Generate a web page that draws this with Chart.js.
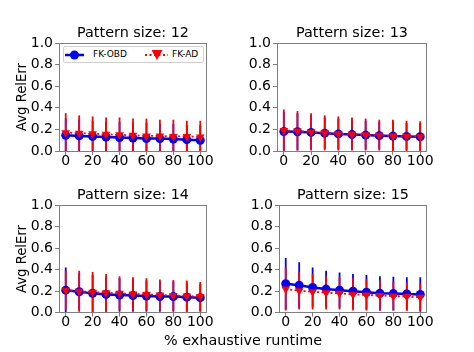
<!DOCTYPE html>
<html>
<head>
<meta charset="utf-8">
<script src="https://cdn.jsdelivr.net/npm/chart.js@4.4.0/dist/chart.umd.min.js"></script>
<style>
html, body { margin: 0; padding: 0; background: #fff; }
body { width: 474px; height: 352px; position: relative; overflow: hidden; font-family: "DejaVu Sans", sans-serif; }
canvas { position: absolute; left: 0; top: 0; }
#legend { position: absolute; left: 63px; top: 46px; width: 139px; height: 15px; border: 1px solid #d0d0d0; border-radius: 2px; background: #fff; font-size: 9px; color: #000; }
#legend span { position: absolute; top: 2px; }
#legend svg { position: absolute; top: 1px; }
#xlabel { position: absolute; left: 143px; width: 200px; top: 332px; text-align: center; font-size: 14.4px; color: #000; }
</style>
</head>
<body>
<canvas id="p12" width="474" height="352"></canvas>
<canvas id="p13" width="474" height="352"></canvas>
<canvas id="p14" width="474" height="352"></canvas>
<canvas id="p15" width="474" height="352"></canvas>
<div id="legend">
  <svg style="left:1px" width="20" height="14"><line x1="0" y1="7" x2="19" y2="7" stroke="#0000ff" stroke-width="2.5"/><circle cx="9.5" cy="7" r="4.5" fill="#0000ff"/></svg>
  <span style="left:29px">FK-OBD</span>
  <svg style="left:81px" width="24" height="14"><line x1="0" y1="7" x2="23" y2="7" stroke="#ff0000" stroke-width="1.8" stroke-dasharray="2,2.5"/><polygon points="6.5,2 17.5,2 12,12" fill="#ff0000"/></svg>
  <span style="left:108px">FK-AD</span>
</div>
<div id="xlabel">% exhaustive runtime</div>
<script>
"use strict";
const runtime = [0, 10, 20, 30, 40, 50, 60, 70, 80, 90, 100];
const xTicks = [0, 20, 40, 60, 80, 100];

// pattern size 12
const obd12    = [0.145, 0.14, 0.135, 0.13, 0.125, 0.12, 0.115, 0.115, 0.11, 0.105, 0.10];
const obd12Top = [0.30, 0.29, 0.28, 0.27, 0.27, 0.26, 0.26, 0.25, 0.25, 0.24, 0.24];
const ad12     = [0.17, 0.165, 0.16, 0.155, 0.15, 0.145, 0.14, 0.14, 0.135, 0.135, 0.13];
const ad12Top  = [0.35, 0.33, 0.32, 0.31, 0.31, 0.30, 0.30, 0.29, 0.29, 0.28, 0.28];

// pattern size 13
const obd13    = [0.18, 0.178, 0.172, 0.165, 0.158, 0.152, 0.147, 0.142, 0.138, 0.135, 0.132];
const obd13Top = [0.36, 0.35, 0.33, 0.31, 0.30, 0.29, 0.28, 0.27, 0.27, 0.26, 0.26];
const ad13     = [0.19, 0.185, 0.175, 0.168, 0.16, 0.155, 0.15, 0.145, 0.14, 0.137, 0.133];
const ad13Top  = [0.385, 0.37, 0.35, 0.33, 0.32, 0.31, 0.30, 0.29, 0.29, 0.28, 0.275];

// pattern size 14
const obd14    = [0.21, 0.195, 0.18, 0.17, 0.165, 0.16, 0.155, 0.15, 0.15, 0.145, 0.14];
const obd14Top = [0.42, 0.37, 0.35, 0.33, 0.32, 0.31, 0.30, 0.29, 0.29, 0.28, 0.27];
const ad14     = [0.21, 0.20, 0.19, 0.185, 0.18, 0.175, 0.17, 0.165, 0.16, 0.155, 0.15];
const ad14Top  = [0.39, 0.39, 0.38, 0.36, 0.34, 0.33, 0.32, 0.31, 0.305, 0.30, 0.285];

// pattern size 15
const obd15    = [0.27, 0.255, 0.235, 0.22, 0.21, 0.20, 0.19, 0.18, 0.178, 0.175, 0.17];
const obd15Top = [0.51, 0.47, 0.42, 0.39, 0.375, 0.36, 0.35, 0.34, 0.335, 0.33, 0.33];
const ad15     = [0.22, 0.205, 0.195, 0.185, 0.18, 0.17, 0.165, 0.16, 0.155, 0.15, 0.145];
const ad15Top  = [0.42, 0.38, 0.36, 0.34, 0.33, 0.32, 0.31, 0.30, 0.29, 0.28, 0.27];

const FONT = "'DejaVu Sans', sans-serif";
const SPINE = "#7f7f7f";

// box around plot area (all four spines)
const frame = {
    id: "frame",
    afterDatasetsDraw(chart) {
        const a = chart.chartArea, ctx = chart.ctx;
        ctx.save();
        ctx.strokeStyle = SPINE;
        ctx.lineWidth = 1;
        ctx.strokeRect(Math.round(a.left) + 0.5, Math.round(a.top) + 0.5,
            Math.round(a.right - a.left) - 1, Math.round(a.bottom - a.top));
        ctx.restore();
    }
};

function errBars(mean, top) {
    return runtime.map((x, i) => ({ x: x, y: [2 * mean[i] - top[i], top[i]] }));
}
function points(vals) {
    return runtime.map((x, i) => ({ x: x, y: vals[i] }));
}

function makePlot(id, box, title, obd, obdTop, ad, adTop, yTitle) {
    const titleH = 14.4 * 1.2 + 1;
    const xH = 20;
    const yW = yTitle ? box.l - 14.2 : 40;
    return new Chart(document.getElementById(id).getContext("2d"), {
        type: "line",
        data: {
            datasets: [
                {
                    type: "line", label: "FK-AD", data: points(ad), order: 0,
                    borderColor: "#ff0000", backgroundColor: "#ff0000",
                    borderWidth: 1.8, borderDash: [2, 2.5], tension: 0,
                    pointStyle: "triangle", pointRotation: 180, pointRadius: 5,
                    pointBorderWidth: 0, pointBackgroundColor: "#ff0000"
                },
                {
                    type: "line", label: "FK-OBD", data: points(obd), order: 1,
                    borderColor: "#0000ff", backgroundColor: "#0000ff",
                    borderWidth: 2.5, tension: 0,
                    pointStyle: "circle", pointRadius: 4.5,
                    pointBorderWidth: 0, pointBackgroundColor: "#0000ff"
                },
                {
                    type: "bar", label: "FK-AD err", data: errBars(ad, adTop), order: 2,
                    backgroundColor: "#ff0000", barThickness: 1.8, inflateAmount: 0, grouped: false
                },
                {
                    type: "bar", label: "FK-OBD err", data: errBars(obd, obdTop), order: 3,
                    backgroundColor: "#0000ff", barThickness: 1.8, inflateAmount: 0, grouped: false
                }
            ]
        },
        options: {
            responsive: false,
            animation: false,
            events: [],
            devicePixelRatio: 1,
            layout: {
                padding: {
                    left: box.l - yW,
                    top: box.t - titleH,
                    right: 474 - box.r,
                    bottom: 352 - box.b - xH
                }
            },
            plugins: {
                legend: { display: false },
                tooltip: { enabled: false },
                title: {
                    display: true, text: title, fullSize: false, color: "#000",
                    font: { family: FONT, size: 14.4, weight: "normal", lineHeight: 1.2 },
                    padding: { top: 0, bottom: 1 }
                }
            },
            scales: {
                x: {
                    type: "linear", min: -5, max: 105, offset: false,
                    afterBuildTicks: s => { s.ticks = xTicks.map(v => ({ value: v })); },
                    afterFit: s => { s.height = xH; },
                    grid: { drawOnChartArea: false, offset: false, tickLength: 4, tickColor: SPINE },
                    border: { display: false },
                    ticks: {
                        color: "#000", maxRotation: 0, autoSkip: false, padding: -1,
                        font: { family: FONT, size: 14, lineHeight: 1 }
                    }
                },
                y: {
                    min: 0, max: 1,
                    afterFit: s => { s.width = yW; },
                    grid: { drawOnChartArea: false, tickLength: 4, tickColor: SPINE },
                    border: { display: false },
                    title: {
                        display: yTitle, text: "Avg RelErr", color: "#000",
                        font: { family: FONT, size: 13.2, lineHeight: 1.2 },
                        padding: { top: 0, bottom: 0 }
                    },
                    ticks: {
                        color: "#000", stepSize: 0.2, padding: 2,
                        font: { family: FONT, size: 14, lineHeight: 1.2 },
                        callback: v => v.toFixed(1)
                    }
                }
            }
        },
        plugins: [frame]
    });
}

makePlot("p12", { l: 59, t: 43, r: 207, b: 151 }, "Pattern size: 12", obd12, obd12Top, ad12, ad12Top, true);
makePlot("p13", { l: 277, t: 43, r: 427, b: 151 }, "Pattern size: 13", obd13, obd13Top, ad13, ad13Top, false);
makePlot("p14", { l: 59, t: 205.3, r: 207, b: 312.7 }, "Pattern size: 14", obd14, obd14Top, ad14, ad14Top, true);
makePlot("p15", { l: 279, t: 205.3, r: 427, b: 312.7 }, "Pattern size: 15", obd15, obd15Top, ad15, ad15Top, false);
</script>
</body>
</html>
